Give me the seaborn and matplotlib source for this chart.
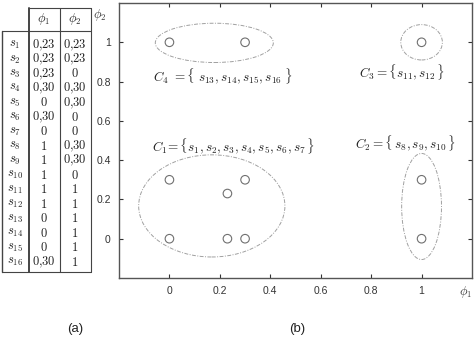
import matplotlib
matplotlib.use("Agg")
import matplotlib.pyplot as plt
import seaborn as sns
import pandas as pd
from matplotlib.patches import Ellipse
from matplotlib.lines import Line2D

# ---- data ----
samples = [f"s_{{{i}}}" for i in range(1, 17)]
phi1 = [0.23, 0.23, 0.23, 0.30, 0, 0.30, 0, 1, 1, 1, 1, 1, 0, 0, 0, 0.30]
phi2 = [0.23, 0.23, 0, 0.30, 0.30, 0, 0, 0.30, 0.30, 0, 1, 1, 1, 1, 1, 1]
x_ticks = [0, 0.2, 0.4, 0.6, 0.8, 1]
x_ticklabels = ["0", "0.2", "0.4", "0.6", "0.8", "1"]
y_ticks = [0, 0.2, 0.4, 0.6, 0.8, 1]
y_ticklabels = ["0", "0.2", "0.4", "0.6", "0.8", "1"]
cluster_labels = [
    r"$C_1\!=\{s_1,s_2,s_3,s_4,s_5,s_6,s_7\,\}$",
    r"$C_2 = \{\,s_8,s_9,s_{10}\,\}$",
    r"$C_3 = \{s_{11},s_{12}\,\}$",
    r"$C_4\ = \{\ s_{13},s_{14},s_{15},s_{16}\ \}$",
]
# ellipse centre/size (data units) and label anchors
ell_cx = [0.168, 1.0, 1.0, 0.178]
ell_cy = [0.167, 0.164, 1.0, 0.997]
ell_w = [0.58, 0.158, 0.165, 0.468]
ell_h = [0.52, 0.54, 0.18, 0.2]
lab_x = [-0.07, 0.735, 0.75, -0.065]
lab_y = [0.47, 0.485, 0.85, 0.83]

df = pd.DataFrame({"phi1": phi1, "phi2": phi2}).drop_duplicates()

sns.set_theme(style="white")
plt.rcParams["mathtext.fontset"] = "cm"
plt.rcParams["font.family"] = ["Liberation Sans", "DejaVu Sans"]

fig = plt.figure(figsize=(4.74, 3.45), dpi=100)
ax = fig.add_axes([119 / 474, 1 - 278 / 345, (472 - 119) / 474, (278 - 3) / 345])

sns.scatterplot(data=df, x="phi1", y="phi2", ax=ax, marker="o", s=38,
                facecolor="none", edgecolor="#707070", linewidth=0.8, legend=False)

for cx, cy, w, h in zip(ell_cx, ell_cy, ell_w, ell_h):
    ax.add_patch(Ellipse((cx, cy), w, h, fill=False, edgecolor="#a0a0a0",
                         linestyle=(0, (4, 1.5, 1, 1.5)), linewidth=0.7))
for tx, ty, t in zip(lab_x, lab_y, cluster_labels):
    ax.text(tx, ty, t, fontsize=9.5, color="#222222", va="center", ha="left")

ax.set_xlim(-0.2, 1.2)
ax.set_ylim(-0.2, 1.2)
ax.set_xticks(x_ticks)
ax.set_xticklabels(x_ticklabels)
ax.set_yticks(y_ticks)
ax.set_yticklabels(y_ticklabels)
ax.set_xlabel("")
ax.set_ylabel("")
ax.tick_params(direction="in", length=3, width=0.8, top=True, right=True,
               bottom=True, left=True, labelsize=7.5, colors="#333333",
               pad=6)
for sp in ax.spines.values():
    sp.set_color("#555555")
    sp.set_linewidth(1.0)

fig.text(100 / 474, 1 - 15 / 345, r"$\phi_2$", fontsize=9, ha="center", va="center", color="#333333")
fig.text(466 / 474, 1 - 292 / 345, r"$\phi_1$", fontsize=9, ha="center", va="center", color="#333333")

# ---- table (a) ----
def px(x):
    return x / 474

def py(y):
    return 1 - y / 345

lc = "#444444"
fig.add_artist(Line2D([px(29), px(91)], [py(8), py(8)], color=lc, lw=0.8))
fig.add_artist(Line2D([px(2), px(91)], [py(31), py(31)], color=lc, lw=0.8))
fig.add_artist(Line2D([px(2), px(91)], [py(272), py(272)], color=lc, lw=0.8))
fig.add_artist(Line2D([px(2), px(2)], [py(31), py(272)], color=lc, lw=1.0))
fig.add_artist(Line2D([px(29), px(29)], [py(8), py(272)], color=lc, lw=1.4))
fig.add_artist(Line2D([px(59.5), px(59.5)], [py(8), py(272)], color=lc, lw=0.8))
fig.add_artist(Line2D([px(91), px(91)], [py(8), py(272)], color=lc, lw=0.8))
fig.text(px(44), py(19), r"$\phi_1$", fontsize=9, ha="center", va="center", color="#222222")
fig.text(px(75), py(19), r"$\phi_2$", fontsize=9, ha="center", va="center", color="#222222")


def fmt(v):
    if v == 0:
        return "0"
    if v == 1:
        return "1"
    return f"{v:.2f}".replace(".", "{,}")


for i, (s, a, b) in enumerate(zip(samples, phi1, phi2)):
    yy = 45 + i * 14.47
    fig.text(px(15), py(yy), f"${s}$", fontsize=9, ha="center", va="center", color="#222222")
    fig.text(px(44), py(yy), f"$\\mathrm{{{fmt(a)}}}$", fontsize=9, ha="center", va="center", color="#222222")
    fig.text(px(75), py(yy), f"$\\mathrm{{{fmt(b)}}}$", fontsize=9, ha="center", va="center", color="#222222")

fig.text(px(75), py(329), "(a)", fontsize=9.5, ha="center", va="center", color="#222222")
fig.text(px(297), py(329), "(b)", fontsize=9.5, ha="center", va="center", color="#222222")

fig.savefig("out.png", dpi=100)
